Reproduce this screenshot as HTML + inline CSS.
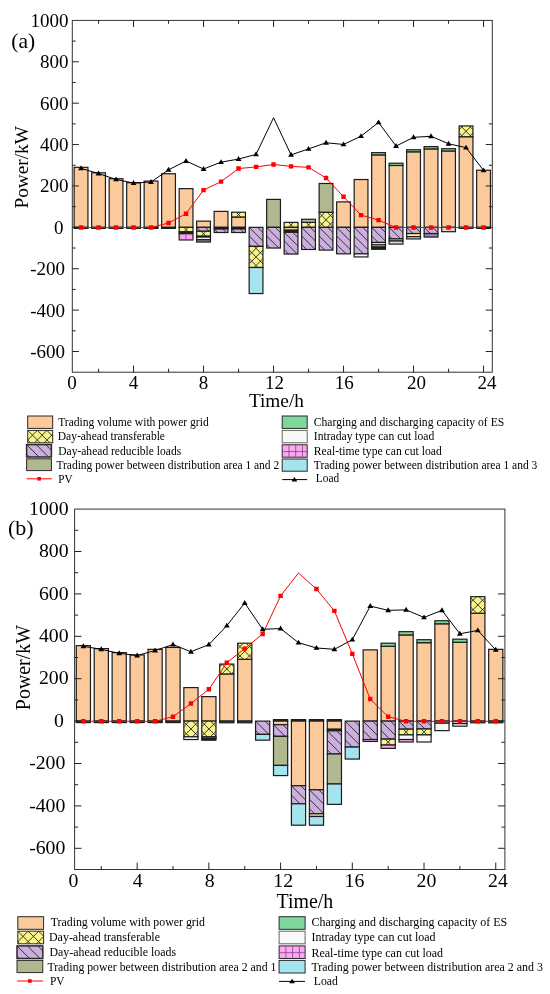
<!DOCTYPE html>
<html><head><meta charset="utf-8"><title>Power dispatch results</title>
<style>
html,body{margin:0;padding:0;background:#fff}
svg{display:block}
text{font-family:"Liberation Serif",serif;fill:#000}
.b{stroke:#1c1c1c;stroke-width:1.2}
.hh{fill:none;stroke:#222;stroke-width:.9}
.hg{fill:none;stroke:#8e3c8a;stroke-width:.8}
.fr{fill:none;stroke:#333;stroke-width:1}
.tk{fill:none;stroke:#222;stroke-width:1}
</style></head><body>
<svg width="550" height="994" viewBox="0 0 550 994">
<rect width="550" height="994" fill="#fff"/>
<rect class="b" x="74.15" y="167.33" width="13.8" height="60.01" fill="#fcc99b"/>
<rect class="b" x="74.15" y="227.34" width="13.8" height="1.03" fill="#4a4a4a"/>
<rect class="b" x="91.65" y="172.81" width="13.8" height="54.53" fill="#fcc99b"/>
<rect class="b" x="91.65" y="227.34" width="13.8" height="1.03" fill="#4a4a4a"/>
<rect class="b" x="109.15" y="178.71" width="13.8" height="48.63" fill="#fcc99b"/>
<rect class="b" x="109.15" y="227.34" width="13.8" height="1.03" fill="#4a4a4a"/>
<rect class="b" x="126.65" y="182.74" width="13.8" height="44.6" fill="#fcc99b"/>
<rect class="b" x="126.65" y="227.34" width="13.8" height="1.03" fill="#4a4a4a"/>
<rect class="b" x="144.15" y="181.09" width="13.8" height="46.25" fill="#fcc99b"/>
<rect class="b" x="144.15" y="227.34" width="13.8" height="1.03" fill="#4a4a4a"/>
<rect class="b" x="161.65" y="173.74" width="13.8" height="53.6" fill="#fcc99b"/>
<rect class="b" x="161.65" y="227.34" width="13.8" height="1.03" fill="#4a4a4a"/>
<rect class="b" x="179.15" y="188.64" width="13.8" height="38.7" fill="#fcc99b"/>
<rect class="b" x="179.15" y="227.34" width="13.8" height="4.55" fill="#f8f48c"/>
<svg x="179.15" y="227.34" width="13.8" height="4.55"><path class="hh" d="M-12.58 0l4.55 4.55M-3.98 0l4.55 4.55M4.62 0l4.55 4.55M13.22 0l4.55 4.55M0.58 0l-4.55 4.55M9.18 0l-4.55 4.55M17.78 0l-4.55 4.55"/></svg>
<rect class="b" x="179.15" y="231.89" width="13.8" height="1.86" fill="#222"/>
<rect class="b" x="179.15" y="233.76" width="13.8" height="6.21" fill="#f9a9f1"/>
<svg x="179.15" y="233.76" width="13.8" height="6.21"><path class="hg" d="M6.75 0v6.21M13.5 0v6.21"/></svg>
<rect class="b" x="196.65" y="221.13" width="13.8" height="6.21" fill="#fcc99b"/>
<rect class="b" x="196.65" y="227.34" width="13.8" height="3.93" fill="#cbb0de"/>
<svg x="196.65" y="227.34" width="13.8" height="3.93"><path class="hh" d="M-8.6 0l3.93 3.93M0 0l3.93 3.93M8.6 0l3.93 3.93"/></svg>
<rect class="b" x="196.65" y="231.27" width="13.8" height="4.97" fill="#f8f48c"/>
<svg x="196.65" y="231.27" width="13.8" height="4.97"><path class="hh" d="M-12.78 0l4.97 4.97M-4.18 0l4.97 4.97M4.42 0l4.97 4.97M13.02 0l4.97 4.97M0.78 0l-4.97 4.97M9.38 0l-4.97 4.97M17.98 0l-4.97 4.97"/></svg>
<rect class="b" x="196.65" y="236.24" width="13.8" height="0.83" fill="#222"/>
<rect class="b" x="196.65" y="237.07" width="13.8" height="2.69" fill="#f8f8f8"/>
<rect class="b" x="196.65" y="239.76" width="13.8" height="2.28" fill="#9a86a8"/>
<rect class="b" x="214.15" y="211.41" width="13.8" height="15.93" fill="#fcc99b"/>
<rect class="b" x="214.15" y="227.34" width="13.8" height="1.66" fill="#222"/>
<rect class="b" x="214.15" y="229" width="13.8" height="3.52" fill="#cbb0de"/>
<svg x="214.15" y="229" width="13.8" height="3.52"><path class="hh" d="M-8.6 0l3.52 3.52M0 0l3.52 3.52M8.6 0l3.52 3.52"/></svg>
<rect class="b" x="231.65" y="216.99" width="13.8" height="10.35" fill="#fcc99b"/>
<rect class="b" x="231.65" y="212.23" width="13.8" height="4.76" fill="#f8f48c"/>
<svg x="231.65" y="212.23" width="13.8" height="4.76"><path class="hh" d="M-12.68 0l4.76 4.76M-4.08 0l4.76 4.76M4.52 0l4.76 4.76M13.12 0l4.76 4.76M0.68 0l-4.76 4.76M9.28 0l-4.76 4.76M17.88 0l-4.76 4.76"/></svg>
<rect class="b" x="231.65" y="227.34" width="13.8" height="1.66" fill="#222"/>
<rect class="b" x="231.65" y="229" width="13.8" height="3.52" fill="#cbb0de"/>
<svg x="231.65" y="229" width="13.8" height="3.52"><path class="hh" d="M-8.6 0l3.52 3.52M0 0l3.52 3.52M8.6 0l3.52 3.52"/></svg>
<rect class="b" x="249.15" y="227.34" width="13.8" height="19.04" fill="#cbb0de"/>
<svg x="249.15" y="227.34" width="13.8" height="19.04"><path class="hh" d="M-25.8 0l19.04 19.04M-17.2 0l19.04 19.04M-8.6 0l19.04 19.04M0 0l19.04 19.04M8.6 0l19.04 19.04"/></svg>
<rect class="b" x="249.15" y="246.38" width="13.8" height="21.11" fill="#f8f48c"/>
<svg x="249.15" y="246.38" width="13.8" height="21.11"><path class="hh" d="M-29.45 0l21.11 21.11M-20.85 0l21.11 21.11M-12.25 0l21.11 21.11M-3.65 0l21.11 21.11M4.95 0l21.11 21.11M13.55 0l21.11 21.11M0.25 0l-21.11 21.11M8.85 0l-21.11 21.11M17.45 0l-21.11 21.11M26.05 0l-21.11 21.11M34.65 0l-21.11 21.11"/></svg>
<rect class="b" x="249.15" y="267.49" width="13.8" height="26.07" fill="#a3e4ee"/>
<rect class="b" x="266.65" y="199.4" width="13.8" height="27.94" fill="#b0b88f"/>
<rect class="b" x="266.65" y="227.34" width="13.8" height="20.69" fill="#cbb0de"/>
<svg x="266.65" y="227.34" width="13.8" height="20.69"><path class="hh" d="M-25.8 0l20.69 20.69M-17.2 0l20.69 20.69M-8.6 0l20.69 20.69M0 0l20.69 20.69M8.6 0l20.69 20.69"/></svg>
<rect class="b" x="284.15" y="222.37" width="13.8" height="4.97" fill="#f8f48c"/>
<svg x="284.15" y="222.37" width="13.8" height="4.97"><path class="hh" d="M-12.78 0l4.97 4.97M-4.18 0l4.97 4.97M4.42 0l4.97 4.97M13.02 0l4.97 4.97M0.78 0l-4.97 4.97M9.38 0l-4.97 4.97M17.98 0l-4.97 4.97"/></svg>
<rect class="b" x="284.15" y="227.34" width="13.8" height="2.9" fill="#fcc99b"/>
<rect class="b" x="284.15" y="230.24" width="13.8" height="2.07" fill="#222"/>
<rect class="b" x="284.15" y="232.31" width="13.8" height="21.73" fill="#cbb0de"/>
<svg x="284.15" y="232.31" width="13.8" height="21.73"><path class="hh" d="M-25.8 0l21.73 21.73M-17.2 0l21.73 21.73M-8.6 0l21.73 21.73M0 0l21.73 21.73M8.6 0l21.73 21.73"/></svg>
<rect class="b" x="301.65" y="222.37" width="13.8" height="4.97" fill="#f8f48c"/>
<svg x="301.65" y="222.37" width="13.8" height="4.97"><path class="hh" d="M-12.78 0l4.97 4.97M-4.18 0l4.97 4.97M4.42 0l4.97 4.97M13.02 0l4.97 4.97M0.78 0l-4.97 4.97M9.38 0l-4.97 4.97M17.98 0l-4.97 4.97"/></svg>
<rect class="b" x="301.65" y="219.27" width="13.8" height="3.1" fill="#b0b88f"/>
<rect class="b" x="301.65" y="227.34" width="13.8" height="22.14" fill="#cbb0de"/>
<svg x="301.65" y="227.34" width="13.8" height="22.14"><path class="hh" d="M-25.8 0l22.14 22.14M-17.2 0l22.14 22.14M-8.6 0l22.14 22.14M0 0l22.14 22.14M8.6 0l22.14 22.14"/></svg>
<rect class="b" x="319.15" y="212.23" width="13.8" height="15.11" fill="#f8f48c"/>
<svg x="319.15" y="212.23" width="13.8" height="15.11"><path class="hh" d="M-17.85 0l15.11 15.11M-9.25 0l15.11 15.11M-0.65 0l15.11 15.11M7.95 0l15.11 15.11M5.85 0l-15.11 15.11M14.45 0l-15.11 15.11M23.05 0l-15.11 15.11"/></svg>
<rect class="b" x="319.15" y="183.47" width="13.8" height="28.76" fill="#b0b88f"/>
<rect class="b" x="319.15" y="227.34" width="13.8" height="22.76" fill="#cbb0de"/>
<svg x="319.15" y="227.34" width="13.8" height="22.76"><path class="hh" d="M-25.8 0l22.76 22.76M-17.2 0l22.76 22.76M-8.6 0l22.76 22.76M0 0l22.76 22.76M8.6 0l22.76 22.76"/></svg>
<rect class="b" x="336.65" y="201.89" width="13.8" height="25.45" fill="#fcc99b"/>
<rect class="b" x="336.65" y="227.34" width="13.8" height="26.49" fill="#cbb0de"/>
<svg x="336.65" y="227.34" width="13.8" height="26.49"><path class="hh" d="M-34.4 0l26.49 26.49M-25.8 0l26.49 26.49M-17.2 0l26.49 26.49M-8.6 0l26.49 26.49M0 0l26.49 26.49M8.6 0l26.49 26.49"/></svg>
<rect class="b" x="354.15" y="179.54" width="13.8" height="47.8" fill="#fcc99b"/>
<rect class="b" x="354.15" y="227.34" width="13.8" height="26.49" fill="#cbb0de"/>
<svg x="354.15" y="227.34" width="13.8" height="26.49"><path class="hh" d="M-34.4 0l26.49 26.49M-25.8 0l26.49 26.49M-17.2 0l26.49 26.49M-8.6 0l26.49 26.49M0 0l26.49 26.49M8.6 0l26.49 26.49"/></svg>
<rect class="b" x="354.15" y="253.83" width="13.8" height="3.1" fill="#f8f8f8"/>
<rect class="b" x="371.65" y="154.91" width="13.8" height="72.43" fill="#fcc99b"/>
<rect class="b" x="371.65" y="152.63" width="13.8" height="2.28" fill="#7fd79c"/>
<rect class="b" x="371.65" y="227.34" width="13.8" height="15.11" fill="#cbb0de"/>
<svg x="371.65" y="227.34" width="13.8" height="15.11"><path class="hh" d="M-17.2 0l15.11 15.11M-8.6 0l15.11 15.11M0 0l15.11 15.11M8.6 0l15.11 15.11"/></svg>
<rect class="b" x="371.65" y="242.45" width="13.8" height="2.48" fill="#f8f48c"/>
<rect class="b" x="371.65" y="244.93" width="13.8" height="2.07" fill="#f8f8f8"/>
<rect class="b" x="371.65" y="247" width="13.8" height="2.28" fill="#222"/>
<rect class="b" x="389.15" y="165.46" width="13.8" height="61.88" fill="#fcc99b"/>
<rect class="b" x="389.15" y="163.19" width="13.8" height="2.28" fill="#7fd79c"/>
<rect class="b" x="389.15" y="227.34" width="13.8" height="11.59" fill="#cbb0de"/>
<svg x="389.15" y="227.34" width="13.8" height="11.59"><path class="hh" d="M-17.2 0l11.59 11.59M-8.6 0l11.59 11.59M0 0l11.59 11.59M8.6 0l11.59 11.59"/></svg>
<rect class="b" x="389.15" y="238.93" width="13.8" height="2.07" fill="#f8f48c"/>
<rect class="b" x="389.15" y="241" width="13.8" height="3.1" fill="#d9d9d9"/>
<rect class="b" x="406.65" y="151.81" width="13.8" height="75.53" fill="#fcc99b"/>
<rect class="b" x="406.65" y="149.74" width="13.8" height="2.07" fill="#7fd79c"/>
<rect class="b" x="406.65" y="227.34" width="13.8" height="6.21" fill="#cbb0de"/>
<svg x="406.65" y="227.34" width="13.8" height="6.21"><path class="hh" d="M-8.6 0l6.21 6.21M0 0l6.21 6.21M8.6 0l6.21 6.21"/></svg>
<rect class="b" x="406.65" y="233.55" width="13.8" height="3.1" fill="#f8f48c"/>
<rect class="b" x="406.65" y="236.65" width="13.8" height="2.28" fill="#d9d9d9"/>
<rect class="b" x="424.15" y="148.91" width="13.8" height="78.43" fill="#fcc99b"/>
<rect class="b" x="424.15" y="146.63" width="13.8" height="2.28" fill="#7fd79c"/>
<rect class="b" x="424.15" y="227.34" width="13.8" height="6.21" fill="#cbb0de"/>
<svg x="424.15" y="227.34" width="13.8" height="6.21"><path class="hh" d="M-8.6 0l6.21 6.21M0 0l6.21 6.21M8.6 0l6.21 6.21"/></svg>
<rect class="b" x="424.15" y="233.55" width="13.8" height="3.52" fill="#9a86a8"/>
<rect class="b" x="441.65" y="150.98" width="13.8" height="76.36" fill="#fcc99b"/>
<rect class="b" x="441.65" y="148.7" width="13.8" height="2.28" fill="#7fd79c"/>
<rect class="b" x="441.65" y="227.34" width="13.8" height="4.35" fill="#d9d9d9"/>
<rect class="b" x="459.15" y="136.7" width="13.8" height="90.64" fill="#fcc99b"/>
<rect class="b" x="459.15" y="125.94" width="13.8" height="10.76" fill="#f8f48c"/>
<svg x="459.15" y="125.94" width="13.8" height="10.76"><path class="hh" d="M-24.28 0l10.76 10.76M-15.68 0l10.76 10.76M-7.08 0l10.76 10.76M1.52 0l10.76 10.76M10.12 0l10.76 10.76M3.68 0l-10.76 10.76M12.28 0l-10.76 10.76M20.88 0l-10.76 10.76"/></svg>
<rect class="b" x="459.15" y="227.34" width="13.8" height="1.03" fill="#4a4a4a"/>
<rect class="b" x="476.65" y="170.22" width="13.8" height="57.12" fill="#fcc99b"/>
<rect class="b" x="476.65" y="227.34" width="13.8" height="1.03" fill="#4a4a4a"/>
<rect class="fr" x="72.3" y="20.4" width="420" height="351.8"/>
<path class="tk" d="M72.3 351.5h6.6M492.3 351.5h-6.6M72.3 330.81h3.4M492.3 330.81h-3.4M72.3 310.12h6.6M492.3 310.12h-6.6M72.3 289.42h3.4M492.3 289.42h-3.4M72.3 268.73h6.6M492.3 268.73h-6.6M72.3 248.03h3.4M492.3 248.03h-3.4M72.3 227.34h6.6M492.3 227.34h-6.6M72.3 206.65h3.4M492.3 206.65h-3.4M72.3 185.95h6.6M492.3 185.95h-6.6M72.3 165.26h3.4M492.3 165.26h-3.4M72.3 144.56h6.6M492.3 144.56h-6.6M72.3 123.87h3.4M492.3 123.87h-3.4M72.3 103.18h6.6M72.3 82.48h3.4M72.3 61.79h6.6M72.3 41.09h3.4M98.55 372.2v-3.4M98.55 20.4v3.4M133.55 372.2v-6.6M133.55 20.4v6.6M168.55 372.2v-3.4M168.55 20.4v3.4M203.55 372.2v-6.6M203.55 20.4v6.6M238.55 372.2v-3.4M238.55 20.4v3.4M273.55 372.2v-6.6M273.55 20.4v6.6M308.55 372.2v-3.4M308.55 20.4v3.4M343.55 372.2v-6.6M343.55 20.4v6.6M378.55 372.2v-3.4M378.55 20.4v3.4M413.55 372.2v-6.6M413.55 20.4v6.6M448.55 372.2v-3.4M448.55 20.4v3.4M483.55 372.2v-6.6M483.55 20.4v6.6"/>
<polyline fill="none" stroke="#f00" stroke-width="1" points="81.05,227.55 98.55,227.55 116.05,227.55 133.55,227.55 151.05,227.55 168.55,222.99 186.05,213.68 203.55,190.09 221.05,181.61 238.55,168.57 256.05,166.91 273.55,164.51 291.05,166.4 308.55,167.33 326.05,178.01 343.55,196.71 361.05,215.13 378.55,220.1 396.05,227.55 413.55,227.55 431.05,227.55 448.55,227.55 466.05,227.55 483.55,227.55"/>
<path fill="#f00" d="M78.85 225.35h4.4v4.4h-4.4zM96.35 225.35h4.4v4.4h-4.4zM113.85 225.35h4.4v4.4h-4.4zM131.35 225.35h4.4v4.4h-4.4zM148.85 225.35h4.4v4.4h-4.4zM166.35 220.79h4.4v4.4h-4.4zM183.85 211.48h4.4v4.4h-4.4zM201.35 187.89h4.4v4.4h-4.4zM218.85 179.41h4.4v4.4h-4.4zM236.35 166.37h4.4v4.4h-4.4zM253.85 164.71h4.4v4.4h-4.4zM271.35 162.31h4.4v4.4h-4.4zM288.85 164.2h4.4v4.4h-4.4zM306.35 165.13h4.4v4.4h-4.4zM323.85 175.81h4.4v4.4h-4.4zM341.35 194.51h4.4v4.4h-4.4zM358.85 212.93h4.4v4.4h-4.4zM376.35 217.9h4.4v4.4h-4.4zM393.85 225.35h4.4v4.4h-4.4zM411.35 225.35h4.4v4.4h-4.4zM428.85 225.35h4.4v4.4h-4.4zM446.35 225.35h4.4v4.4h-4.4zM463.85 225.35h4.4v4.4h-4.4zM481.35 225.35h4.4v4.4h-4.4z"/>
<polyline fill="none" stroke="#000" stroke-width="1" points="81.05,168.36 98.55,173.54 116.05,179.43 133.55,183.05 151.05,182.02 168.55,169.81 186.05,161 203.55,169.02 221.05,162.15 238.55,159.09 256.05,154.37 273.55,117.72 291.05,154.85 308.55,148.91 326.05,142.78 343.55,144.44 361.05,136.16 378.55,122.42 396.05,146.1 413.55,137.32 431.05,136.29 448.55,143.74 466.05,147.67 483.55,170.43"/>
<path fill="#000" d="M81.05 165.36l2.9 4.9h-5.8zM98.55 170.54l2.9 4.9h-5.8zM116.05 176.43l2.9 4.9h-5.8zM133.55 180.05l2.9 4.9h-5.8zM151.05 179.02l2.9 4.9h-5.8zM168.55 166.81l2.9 4.9h-5.8zM186.05 158l2.9 4.9h-5.8zM203.55 166.02l2.9 4.9h-5.8zM221.05 159.15l2.9 4.9h-5.8zM238.55 156.09l2.9 4.9h-5.8zM256.05 151.37l2.9 4.9h-5.8zM291.05 151.85l2.9 4.9h-5.8zM308.55 145.91l2.9 4.9h-5.8zM326.05 139.78l2.9 4.9h-5.8zM343.55 141.44l2.9 4.9h-5.8zM361.05 133.16l2.9 4.9h-5.8zM378.55 119.42l2.9 4.9h-5.8zM396.05 143.1l2.9 4.9h-5.8zM413.55 134.32l2.9 4.9h-5.8zM431.05 133.29l2.9 4.9h-5.8zM448.55 140.74l2.9 4.9h-5.8zM466.05 144.67l2.9 4.9h-5.8zM483.55 167.43l2.9 4.9h-5.8z"/>
<text x="65" y="357.9" font-size="19" text-anchor="end">-600</text>
<text x="65" y="316.52" font-size="19" text-anchor="end">-400</text>
<text x="65" y="275.13" font-size="19" text-anchor="end">-200</text>
<text x="63.6" y="233.74" font-size="19" text-anchor="end">0</text>
<text x="68.4" y="192.35" font-size="19" text-anchor="end">200</text>
<text x="68.4" y="150.96" font-size="19" text-anchor="end">400</text>
<text x="68.4" y="109.58" font-size="19" text-anchor="end">600</text>
<text x="68.4" y="68.19" font-size="19" text-anchor="end">800</text>
<text x="68.4" y="26.8" font-size="19" text-anchor="end">1000</text>
<text x="71.9" y="388.6" font-size="19" text-anchor="middle">0</text>
<text x="133.6" y="388.6" font-size="19" text-anchor="middle">4</text>
<text x="203.6" y="388.6" font-size="19" text-anchor="middle">8</text>
<text x="274.6" y="388.6" font-size="19" text-anchor="middle">12</text>
<text x="344.2" y="388.6" font-size="19" text-anchor="middle">16</text>
<text x="416.6" y="388.6" font-size="19" text-anchor="middle">20</text>
<text x="487" y="388.6" font-size="19" text-anchor="middle">24</text>
<text x="276.4" y="406.7" font-size="19.3" text-anchor="middle">Time/h</text>
<text transform="translate(28.3 167.3) rotate(-90)" font-size="19.3" text-anchor="middle">Power/kW</text>
<text x="11.3" y="48" font-size="21.5">(a)</text>
<rect x="27.7" y="416" width="25" height="12.4" fill="#fcc99b" stroke="#2a2a2a" stroke-width="1"/>
<text x="58.2" y="425.7" font-size="11.55" textLength="150.5" lengthAdjust="spacingAndGlyphs">Trading volume with power grid</text>
<rect x="27.7" y="430.4" width="25" height="12.4" fill="#f8f48c" stroke="#2a2a2a" stroke-width="1"/>
<svg x="27.7" y="430.4" width="25" height="12.4"><path class="hh" d="M-28.8 0l12.4 12.4M-19.2 0l12.4 12.4M-9.6 0l12.4 12.4M0 0l12.4 12.4M9.6 0l12.4 12.4M19.2 0l12.4 12.4M0 0l-12.4 12.4M9.6 0l-12.4 12.4M19.2 0l-12.4 12.4M28.8 0l-12.4 12.4"/></svg>
<text x="57.7" y="440" font-size="11.55" textLength="107.3" lengthAdjust="spacingAndGlyphs">Day-ahead transferable</text>
<rect x="26.6" y="444.6" width="24.8" height="12.4" fill="#cbb0de" stroke="#2a2a2a" stroke-width="1.5"/>
<svg x="26.6" y="444.6" width="24.8" height="12.4"><path class="hh" d="M-19.2 0l12.4 12.4M-9.6 0l12.4 12.4M0 0l12.4 12.4M9.6 0l12.4 12.4M19.2 0l12.4 12.4"/></svg>
<text x="58.2" y="455.1" font-size="11.55" textLength="123" lengthAdjust="spacingAndGlyphs">Day-ahead reducible loads</text>
<rect x="26.6" y="458.8" width="24.8" height="11.8" fill="#b0b88f" stroke="#2a2a2a" stroke-width="1"/>
<text x="56.4" y="469.2" font-size="11.55" textLength="222.8" lengthAdjust="spacingAndGlyphs">Trading power between distribution area 1 and 2</text>
<path d="M26.6 478.8H51.8" stroke="#f00" stroke-width="1"/><rect x="37.3" y="477" width="3.6" height="3.6" fill="#f00"/>
<text x="58.2" y="482.5" font-size="11.55" textLength="14.3" lengthAdjust="spacingAndGlyphs">PV</text>
<rect x="282.2" y="416" width="25" height="12.4" fill="#7fd79c" stroke="#2a2a2a" stroke-width="1"/>
<text x="313.8" y="425.6" font-size="11.55" textLength="190.4" lengthAdjust="spacingAndGlyphs">Charging and discharging capacity of ES</text>
<rect x="282.2" y="430.4" width="25" height="12.4" fill="#f8f8f8" stroke="#666" stroke-width="1"/>
<text x="313.8" y="440" font-size="11.55" textLength="120.4" lengthAdjust="spacingAndGlyphs">Intraday type can cut load</text>
<rect x="282.2" y="444.8" width="25" height="12.4" fill="#f9a9f1" stroke="#2a2a2a" stroke-width="1"/>
<svg x="282.2" y="444.8" width="25" height="12.4"><path class="hg" d="M6.75 0v12.4M13.5 0v12.4M20.25 0v12.4M0 6.75h25"/></svg>
<text x="313.8" y="455.2" font-size="11.55" textLength="128" lengthAdjust="spacingAndGlyphs">Real-time type can cut load</text>
<rect x="282.2" y="459" width="25" height="12.2" fill="#a3e4ee" stroke="#2a2a2a" stroke-width="1"/>
<text x="313.8" y="469.2" font-size="11.55" textLength="223.5" lengthAdjust="spacingAndGlyphs">Trading power between distribution area 1 and 3</text>
<path d="M282.2 479.6H307.2" stroke="#000" stroke-width="1"/><path d="M294.4 476.9l2.9 4.6h-5.8z" fill="#000"/>
<text x="315.8" y="482.3" font-size="11.55" textLength="23.3" lengthAdjust="spacingAndGlyphs">Load</text>
<rect class="b" x="76.26" y="645.63" width="14.2" height="75.47" fill="#fcc99b"/>
<rect class="b" x="76.26" y="721.1" width="14.2" height="1.48" fill="#4a4a4a"/>
<rect class="b" x="94.19" y="648.6" width="14.2" height="72.5" fill="#fcc99b"/>
<rect class="b" x="94.19" y="721.1" width="14.2" height="1.48" fill="#4a4a4a"/>
<rect class="b" x="112.12" y="652.62" width="14.2" height="68.48" fill="#fcc99b"/>
<rect class="b" x="112.12" y="721.1" width="14.2" height="1.48" fill="#4a4a4a"/>
<rect class="b" x="130.05" y="654.96" width="14.2" height="66.14" fill="#fcc99b"/>
<rect class="b" x="130.05" y="721.1" width="14.2" height="1.48" fill="#4a4a4a"/>
<rect class="b" x="147.98" y="649.34" width="14.2" height="71.76" fill="#fcc99b"/>
<rect class="b" x="147.98" y="721.1" width="14.2" height="1.48" fill="#4a4a4a"/>
<rect class="b" x="165.91" y="647.43" width="14.2" height="73.67" fill="#fcc99b"/>
<rect class="b" x="165.91" y="721.1" width="14.2" height="1.48" fill="#4a4a4a"/>
<rect class="b" x="183.84" y="687.6" width="14.2" height="33.5" fill="#fcc99b"/>
<rect class="b" x="183.84" y="721.1" width="14.2" height="15.69" fill="#f8f48c"/>
<svg x="183.84" y="721.1" width="14.2" height="15.69"><path class="hh" d="M-19.54 0l15.69 15.69M-10.14 0l15.69 15.69M-0.74 0l15.69 15.69M8.66 0l15.69 15.69M5.54 0l-15.69 15.69M14.94 0l-15.69 15.69M24.34 0l-15.69 15.69"/></svg>
<rect class="b" x="183.84" y="736.79" width="14.2" height="2.76" fill="#f8f8f8"/>
<rect class="b" x="201.77" y="696.61" width="14.2" height="24.49" fill="#fcc99b"/>
<rect class="b" x="201.77" y="721.1" width="14.2" height="15.69" fill="#f8f48c"/>
<svg x="201.77" y="721.1" width="14.2" height="15.69"><path class="hh" d="M-19.54 0l15.69 15.69M-10.14 0l15.69 15.69M-0.74 0l15.69 15.69M8.66 0l15.69 15.69M5.54 0l-15.69 15.69M14.94 0l-15.69 15.69M24.34 0l-15.69 15.69"/></svg>
<rect class="b" x="201.77" y="736.79" width="14.2" height="1.48" fill="#f8f8f8"/>
<rect class="b" x="201.77" y="738.27" width="14.2" height="1.91" fill="#222"/>
<rect class="b" x="219.7" y="673.93" width="14.2" height="47.17" fill="#fcc99b"/>
<rect class="b" x="219.7" y="664.07" width="14.2" height="9.86" fill="#f8f48c"/>
<svg x="219.7" y="664.07" width="14.2" height="9.86"><path class="hh" d="M-26.03 0l9.86 9.86M-16.63 0l9.86 9.86M-7.23 0l9.86 9.86M2.17 0l9.86 9.86M11.57 0l9.86 9.86M2.63 0l-9.86 9.86M12.03 0l-9.86 9.86M21.43 0l-9.86 9.86"/></svg>
<rect class="b" x="219.7" y="721.1" width="14.2" height="1.7" fill="#4a4a4a"/>
<rect class="b" x="237.63" y="659.26" width="14.2" height="61.84" fill="#fcc99b"/>
<rect class="b" x="237.63" y="643.19" width="14.2" height="16.07" fill="#f8f48c"/>
<svg x="237.63" y="643.19" width="14.2" height="16.07"><path class="hh" d="M-19.73 0l16.07 16.07M-10.33 0l16.07 16.07M-0.93 0l16.07 16.07M8.47 0l16.07 16.07M5.73 0l-16.07 16.07M15.13 0l-16.07 16.07M24.53 0l-16.07 16.07"/></svg>
<rect class="b" x="237.63" y="721.1" width="14.2" height="1.7" fill="#4a4a4a"/>
<rect class="b" x="255.56" y="721.1" width="14.2" height="13.25" fill="#cbb0de"/>
<svg x="255.56" y="721.1" width="14.2" height="13.25"><path class="hh" d="M-18.8 0l13.25 13.25M-9.4 0l13.25 13.25M0 0l13.25 13.25M9.4 0l13.25 13.25"/></svg>
<rect class="b" x="255.56" y="734.35" width="14.2" height="5.83" fill="#a3e4ee"/>
<rect class="b" x="273.49" y="719.62" width="14.2" height="1.48" fill="#4a4a4a"/>
<rect class="b" x="273.49" y="721.1" width="14.2" height="3.6" fill="#fcc99b"/>
<rect class="b" x="273.49" y="724.7" width="14.2" height="11.66" fill="#cbb0de"/>
<svg x="273.49" y="724.7" width="14.2" height="11.66"><path class="hh" d="M-18.8 0l11.66 11.66M-9.4 0l11.66 11.66M0 0l11.66 11.66M9.4 0l11.66 11.66"/></svg>
<rect class="b" x="273.49" y="736.36" width="14.2" height="29.04" fill="#b0b88f"/>
<rect class="b" x="273.49" y="765.41" width="14.2" height="10.18" fill="#a3e4ee"/>
<rect class="b" x="291.42" y="719.62" width="14.2" height="1.48" fill="#4a4a4a"/>
<rect class="b" x="291.42" y="721.1" width="14.2" height="64.66" fill="#fcc99b"/>
<rect class="b" x="291.42" y="785.76" width="14.2" height="18.02" fill="#cbb0de"/>
<svg x="291.42" y="785.76" width="14.2" height="18.02"><path class="hh" d="M-18.8 0l18.02 18.02M-9.4 0l18.02 18.02M0 0l18.02 18.02M9.4 0l18.02 18.02"/></svg>
<rect class="b" x="291.42" y="803.78" width="14.2" height="21.41" fill="#a3e4ee"/>
<rect class="b" x="309.35" y="719.62" width="14.2" height="1.48" fill="#4a4a4a"/>
<rect class="b" x="309.35" y="721.1" width="14.2" height="68.69" fill="#fcc99b"/>
<rect class="b" x="309.35" y="789.79" width="14.2" height="23.96" fill="#cbb0de"/>
<svg x="309.35" y="789.79" width="14.2" height="23.96"><path class="hh" d="M-28.2 0l23.96 23.96M-18.8 0l23.96 23.96M-9.4 0l23.96 23.96M-0 0l23.96 23.96M9.4 0l23.96 23.96"/></svg>
<rect class="b" x="309.35" y="813.74" width="14.2" height="2.76" fill="#d8dc9a"/>
<rect class="b" x="309.35" y="816.5" width="14.2" height="8.69" fill="#a3e4ee"/>
<rect class="b" x="327.28" y="719.62" width="14.2" height="1.48" fill="#4a4a4a"/>
<rect class="b" x="327.28" y="721.1" width="14.2" height="8.16" fill="#fcc99b"/>
<rect class="b" x="327.28" y="729.26" width="14.2" height="1.59" fill="#222"/>
<rect class="b" x="327.28" y="730.85" width="14.2" height="23.11" fill="#cbb0de"/>
<svg x="327.28" y="730.85" width="14.2" height="23.11"><path class="hh" d="M-28.2 0l23.11 23.11M-18.8 0l23.11 23.11M-9.4 0l23.11 23.11M-0 0l23.11 23.11M9.4 0l23.11 23.11"/></svg>
<rect class="b" x="327.28" y="753.96" width="14.2" height="30.02" fill="#b0b88f"/>
<rect class="b" x="327.28" y="783.98" width="14.2" height="20.37" fill="#a3e4ee"/>
<rect class="b" x="345.21" y="721.1" width="14.2" height="25.99" fill="#cbb0de"/>
<svg x="345.21" y="721.1" width="14.2" height="25.99"><path class="hh" d="M-28.2 0l25.99 25.99M-18.8 0l25.99 25.99M-9.4 0l25.99 25.99M-0 0l25.99 25.99M9.4 0l25.99 25.99"/></svg>
<rect class="b" x="345.21" y="747.09" width="14.2" height="11.96" fill="#a3e4ee"/>
<rect class="b" x="363.14" y="649.87" width="14.2" height="71.23" fill="#fcc99b"/>
<rect class="b" x="363.14" y="721.1" width="14.2" height="18.44" fill="#cbb0de"/>
<svg x="363.14" y="721.1" width="14.2" height="18.44"><path class="hh" d="M-18.8 0l18.44 18.44M-9.4 0l18.44 18.44M0 0l18.44 18.44M9.4 0l18.44 18.44"/></svg>
<rect class="b" x="363.14" y="739.54" width="14.2" height="1.91" fill="#f9a9f1"/>
<rect class="b" x="381.07" y="646.26" width="14.2" height="74.84" fill="#fcc99b"/>
<rect class="b" x="381.07" y="643.19" width="14.2" height="3.07" fill="#7fd79c"/>
<rect class="b" x="381.07" y="721.1" width="14.2" height="18.02" fill="#cbb0de"/>
<svg x="381.07" y="721.1" width="14.2" height="18.02"><path class="hh" d="M-18.8 0l18.02 18.02M-9.4 0l18.02 18.02M0 0l18.02 18.02M9.4 0l18.02 18.02"/></svg>
<rect class="b" x="381.07" y="739.12" width="14.2" height="5.94" fill="#f8f48c"/>
<svg x="381.07" y="739.12" width="14.2" height="5.94"><path class="hh" d="M-14.67 0l5.94 5.94M-5.27 0l5.94 5.94M4.13 0l5.94 5.94M13.53 0l5.94 5.94M0.67 0l-5.94 5.94M10.07 0l-5.94 5.94M19.47 0l-5.94 5.94"/></svg>
<rect class="b" x="381.07" y="745.06" width="14.2" height="3.31" fill="#f9a9f1"/>
<rect class="b" x="399" y="634.92" width="14.2" height="86.18" fill="#fcc99b"/>
<rect class="b" x="399" y="631.64" width="14.2" height="3.29" fill="#7fd79c"/>
<rect class="b" x="399" y="721.1" width="14.2" height="8.06" fill="#cbb0de"/>
<svg x="399" y="721.1" width="14.2" height="8.06"><path class="hh" d="M-9.4 0l8.06 8.06M0 0l8.06 8.06M9.4 0l8.06 8.06"/></svg>
<rect class="b" x="399" y="729.16" width="14.2" height="5.72" fill="#f8f48c"/>
<svg x="399" y="729.16" width="14.2" height="5.72"><path class="hh" d="M-14.56 0l5.72 5.72M-5.16 0l5.72 5.72M4.24 0l5.72 5.72M13.64 0l5.72 5.72M0.56 0l-5.72 5.72M9.96 0l-5.72 5.72M19.36 0l-5.72 5.72"/></svg>
<rect class="b" x="399" y="734.88" width="14.2" height="4.66" fill="#f8f8f8"/>
<rect class="b" x="399" y="739.54" width="14.2" height="2.46" fill="#f9a9f1"/>
<rect class="b" x="416.93" y="642.66" width="14.2" height="78.44" fill="#fcc99b"/>
<rect class="b" x="416.93" y="639.69" width="14.2" height="2.97" fill="#7fd79c"/>
<rect class="b" x="416.93" y="721.1" width="14.2" height="7.84" fill="#cbb0de"/>
<svg x="416.93" y="721.1" width="14.2" height="7.84"><path class="hh" d="M-9.4 0l7.84 7.84M0 0l7.84 7.84M9.4 0l7.84 7.84"/></svg>
<rect class="b" x="416.93" y="728.94" width="14.2" height="5.94" fill="#f8f48c"/>
<svg x="416.93" y="728.94" width="14.2" height="5.94"><path class="hh" d="M-14.67 0l5.94 5.94M-5.27 0l5.94 5.94M4.13 0l5.94 5.94M13.53 0l5.94 5.94M0.67 0l-5.94 5.94M10.07 0l-5.94 5.94M19.47 0l-5.94 5.94"/></svg>
<rect class="b" x="416.93" y="734.88" width="14.2" height="7.12" fill="#f8f8f8"/>
<rect class="b" x="434.86" y="623.79" width="14.2" height="97.31" fill="#fcc99b"/>
<rect class="b" x="434.86" y="620.74" width="14.2" height="3.05" fill="#7fd79c"/>
<rect class="b" x="434.86" y="721.1" width="14.2" height="2.12" fill="#cbb0de"/>
<rect class="b" x="434.86" y="723.22" width="14.2" height="7.42" fill="#f8f8f8"/>
<rect class="b" x="452.79" y="642.24" width="14.2" height="78.86" fill="#fcc99b"/>
<rect class="b" x="452.79" y="639.18" width="14.2" height="3.05" fill="#7fd79c"/>
<rect class="b" x="452.79" y="721.1" width="14.2" height="2.54" fill="#cbb0de"/>
<rect class="b" x="452.79" y="723.64" width="14.2" height="2.54" fill="#f8f8f8"/>
<rect class="b" x="470.72" y="613.19" width="14.2" height="107.91" fill="#fcc99b"/>
<rect class="b" x="470.72" y="596.66" width="14.2" height="16.54" fill="#f8f48c"/>
<svg x="470.72" y="596.66" width="14.2" height="16.54"><path class="hh" d="M-19.97 0l16.54 16.54M-10.57 0l16.54 16.54M-1.17 0l16.54 16.54M8.23 0l16.54 16.54M5.97 0l-16.54 16.54M15.37 0l-16.54 16.54M24.77 0l-16.54 16.54"/></svg>
<rect class="b" x="470.72" y="721.1" width="14.2" height="1.7" fill="#4a4a4a"/>
<rect class="b" x="488.65" y="649.34" width="14.2" height="71.76" fill="#fcc99b"/>
<rect class="b" x="488.65" y="721.1" width="14.2" height="1.7" fill="#4a4a4a"/>
<rect class="fr" x="74.6" y="509.1" width="430.3" height="360.4"/>
<path class="tk" d="M74.6 848.3h6.9M504.9 848.3h-6.9M74.6 827.1h3.5M504.9 827.1h-3.5M74.6 805.9h6.9M504.9 805.9h-6.9M74.6 784.7h3.5M504.9 784.7h-3.5M74.6 763.5h6.9M504.9 763.5h-6.9M74.6 742.3h3.5M504.9 742.3h-3.5M74.6 721.1h6.9M504.9 721.1h-6.9M74.6 699.9h3.5M504.9 699.9h-3.5M74.6 678.7h6.9M504.9 678.7h-6.9M74.6 657.5h3.5M504.9 657.5h-3.5M74.6 636.3h6.9M504.9 636.3h-6.9M74.6 615.1h3.5M504.9 615.1h-3.5M74.6 593.9h6.9M504.9 593.9h-6.9M74.6 572.7h3.5M74.6 551.5h6.9M74.6 530.3h3.5M101.29 869.5v-3.5M137.15 869.5v-6.9M173.01 869.5v-3.5M208.87 869.5v-6.9M244.73 869.5v-3.5M280.59 869.5v-6.9M316.45 869.5v-3.5M352.31 869.5v-6.9M388.17 869.5v-3.5M424.03 869.5v-6.9M459.89 869.5v-3.5M495.75 869.5v-6.9"/>
<polyline fill="none" stroke="#f00" stroke-width="1" points="83.36,721.31 101.29,721.31 119.22,721.31 137.15,721.31 155.08,721.31 173.01,716.71 190.94,703.5 208.87,689.3 226.8,662.8 244.73,648.6 262.66,633.97 280.59,595.91 298.52,573 316.45,589.07 334.38,610.86 352.31,653.9 370.24,699.05 388.17,716.71 406.1,721.31 424.03,721.31 441.96,721.31 459.89,721.31 477.82,721.31 495.75,721.31"/>
<path fill="#f00" d="M81.16 719.11h4.4v4.4h-4.4zM99.09 719.11h4.4v4.4h-4.4zM117.02 719.11h4.4v4.4h-4.4zM134.95 719.11h4.4v4.4h-4.4zM152.88 719.11h4.4v4.4h-4.4zM170.81 714.51h4.4v4.4h-4.4zM188.74 701.3h4.4v4.4h-4.4zM206.67 687.1h4.4v4.4h-4.4zM224.6 660.6h4.4v4.4h-4.4zM242.53 646.4h4.4v4.4h-4.4zM260.46 631.77h4.4v4.4h-4.4zM278.39 593.71h4.4v4.4h-4.4zM314.25 586.87h4.4v4.4h-4.4zM332.18 608.66h4.4v4.4h-4.4zM350.11 651.7h4.4v4.4h-4.4zM368.04 696.85h4.4v4.4h-4.4zM385.97 714.51h4.4v4.4h-4.4zM403.9 719.11h4.4v4.4h-4.4zM421.83 719.11h4.4v4.4h-4.4zM439.76 719.11h4.4v4.4h-4.4zM457.69 719.11h4.4v4.4h-4.4zM475.62 719.11h4.4v4.4h-4.4zM493.55 719.11h4.4v4.4h-4.4z"/>
<polyline fill="none" stroke="#000" stroke-width="1" points="83.36,646.26 101.29,649.34 119.22,653.37 137.15,655.49 155.08,650.5 173.01,644.57 190.94,651.78 208.87,644.57 226.8,625.7 244.73,603.02 262.66,629.3 280.59,628.54 298.52,642.72 316.45,647.96 334.38,649.34 352.31,639.69 370.24,606.09 388.17,610.33 406.1,609.86 424.03,617.43 441.96,610.33 459.89,633.76 477.82,630.43 495.75,649.87"/>
<path fill="#000" d="M83.36 643.26l2.9 4.9h-5.8zM101.29 646.34l2.9 4.9h-5.8zM119.22 650.37l2.9 4.9h-5.8zM137.15 652.49l2.9 4.9h-5.8zM155.08 647.5l2.9 4.9h-5.8zM173.01 641.57l2.9 4.9h-5.8zM190.94 648.78l2.9 4.9h-5.8zM208.87 641.57l2.9 4.9h-5.8zM226.8 622.7l2.9 4.9h-5.8zM244.73 600.02l2.9 4.9h-5.8zM262.66 626.3l2.9 4.9h-5.8zM280.59 625.54l2.9 4.9h-5.8zM298.52 639.72l2.9 4.9h-5.8zM316.45 644.96l2.9 4.9h-5.8zM334.38 646.34l2.9 4.9h-5.8zM352.31 636.69l2.9 4.9h-5.8zM370.24 603.09l2.9 4.9h-5.8zM388.17 607.33l2.9 4.9h-5.8zM406.1 606.86l2.9 4.9h-5.8zM424.03 614.43l2.9 4.9h-5.8zM441.96 607.33l2.9 4.9h-5.8zM459.89 630.76l2.9 4.9h-5.8zM477.82 627.43l2.9 4.9h-5.8zM495.75 646.87l2.9 4.9h-5.8z"/>
<text x="65.4" y="854" font-size="19.8" text-anchor="end">-600</text>
<text x="65.4" y="811.6" font-size="19.8" text-anchor="end">-400</text>
<text x="65.4" y="769.2" font-size="19.8" text-anchor="end">-200</text>
<text x="64" y="726.8" font-size="19.8" text-anchor="end">0</text>
<text x="68.6" y="684.4" font-size="19.8" text-anchor="end">200</text>
<text x="68.6" y="642" font-size="19.8" text-anchor="end">400</text>
<text x="68.6" y="599.6" font-size="19.8" text-anchor="end">600</text>
<text x="68.6" y="557.2" font-size="19.8" text-anchor="end">800</text>
<text x="68.6" y="514.8" font-size="19.8" text-anchor="end">1000</text>
<text x="73.5" y="886.8" font-size="19.8" text-anchor="middle">0</text>
<text x="137.6" y="886.8" font-size="19.8" text-anchor="middle">4</text>
<text x="209.8" y="886.8" font-size="19.8" text-anchor="middle">8</text>
<text x="283.2" y="886.8" font-size="19.8" text-anchor="middle">12</text>
<text x="354.4" y="886.8" font-size="19.8" text-anchor="middle">16</text>
<text x="426.4" y="886.8" font-size="19.8" text-anchor="middle">20</text>
<text x="498" y="886.8" font-size="19.8" text-anchor="middle">24</text>
<text x="304.9" y="908.2" font-size="19.9" text-anchor="middle">Time/h</text>
<text transform="translate(29.6 667.6) rotate(-90)" font-size="19.9" text-anchor="middle">Power/kW</text>
<text x="8" y="534.6" font-size="22">(b)</text>
<rect x="17.8" y="916.7" width="25.8" height="12.6" fill="#fcc99b" stroke="#2a2a2a" stroke-width="1"/>
<text x="50.7" y="926.2" font-size="11.9" textLength="154.3" lengthAdjust="spacingAndGlyphs">Trading volume with power grid</text>
<rect x="17.8" y="931.2" width="25.8" height="12.6" fill="#f8f48c" stroke="#2a2a2a" stroke-width="1"/>
<svg x="17.8" y="931.2" width="25.8" height="12.6"><path class="hh" d="M-31.2 0l12.6 12.6M-20.8 0l12.6 12.6M-10.4 0l12.6 12.6M-0 0l12.6 12.6M10.4 0l12.6 12.6M20.8 0l12.6 12.6M0 0l-12.6 12.6M10.4 0l-12.6 12.6M20.8 0l-12.6 12.6M31.2 0l-12.6 12.6"/></svg>
<text x="49" y="941.2" font-size="11.9" textLength="111" lengthAdjust="spacingAndGlyphs">Day-ahead transferable</text>
<rect x="17" y="945.9" width="25.8" height="12.6" fill="#cbb0de" stroke="#2a2a2a" stroke-width="1.5"/>
<svg x="17" y="945.9" width="25.8" height="12.6"><path class="hh" d="M-20.8 0l12.6 12.6M-10.4 0l12.6 12.6M0 0l12.6 12.6M10.4 0l12.6 12.6M20.8 0l12.6 12.6"/></svg>
<text x="49.5" y="956.2" font-size="11.9" textLength="126.5" lengthAdjust="spacingAndGlyphs">Day-ahead reducible loads</text>
<rect x="17" y="960.4" width="25.8" height="12.2" fill="#b0b88f" stroke="#2a2a2a" stroke-width="1"/>
<text x="47.4" y="970.8" font-size="11.9" textLength="229" lengthAdjust="spacingAndGlyphs">Trading power between distribution area 2 and 1</text>
<path d="M16.9 981H43.1" stroke="#f00" stroke-width="1"/><rect x="28.1" y="979.2" width="3.6" height="3.6" fill="#f00"/>
<text x="50" y="984.8" font-size="11.9" textLength="14.6" lengthAdjust="spacingAndGlyphs">PV</text>
<rect x="279.1" y="916.7" width="26" height="12.6" fill="#7fd79c" stroke="#2a2a2a" stroke-width="1"/>
<text x="311.5" y="926.2" font-size="11.9" textLength="195.7" lengthAdjust="spacingAndGlyphs">Charging and discharging capacity of ES</text>
<rect x="279.1" y="931.2" width="26" height="12.6" fill="#f8f8f8" stroke="#666" stroke-width="1"/>
<text x="311.5" y="941.2" font-size="11.9" textLength="124" lengthAdjust="spacingAndGlyphs">Intraday type can cut load</text>
<rect x="279.1" y="945.9" width="26" height="12.6" fill="#f9a9f1" stroke="#2a2a2a" stroke-width="1"/>
<svg x="279.1" y="945.9" width="26" height="12.6"><path class="hg" d="M6.75 0v12.6M13.5 0v12.6M20.25 0v12.6M0 6.75h26"/></svg>
<text x="311.5" y="956.5" font-size="11.9" textLength="131.6" lengthAdjust="spacingAndGlyphs">Real-time type can cut load</text>
<rect x="279.1" y="960.4" width="26" height="12.6" fill="#a3e4ee" stroke="#2a2a2a" stroke-width="1"/>
<text x="311.5" y="970.8" font-size="11.9" textLength="231.4" lengthAdjust="spacingAndGlyphs">Trading power between distribution area 2 and 3</text>
<path d="M279 981.4H305" stroke="#000" stroke-width="1"/><path d="M292.1 978.7l2.9 4.6h-5.8z" fill="#000"/>
<text x="313.8" y="984.6" font-size="11.9" textLength="24" lengthAdjust="spacingAndGlyphs">Load</text>
</svg>
</body></html>
